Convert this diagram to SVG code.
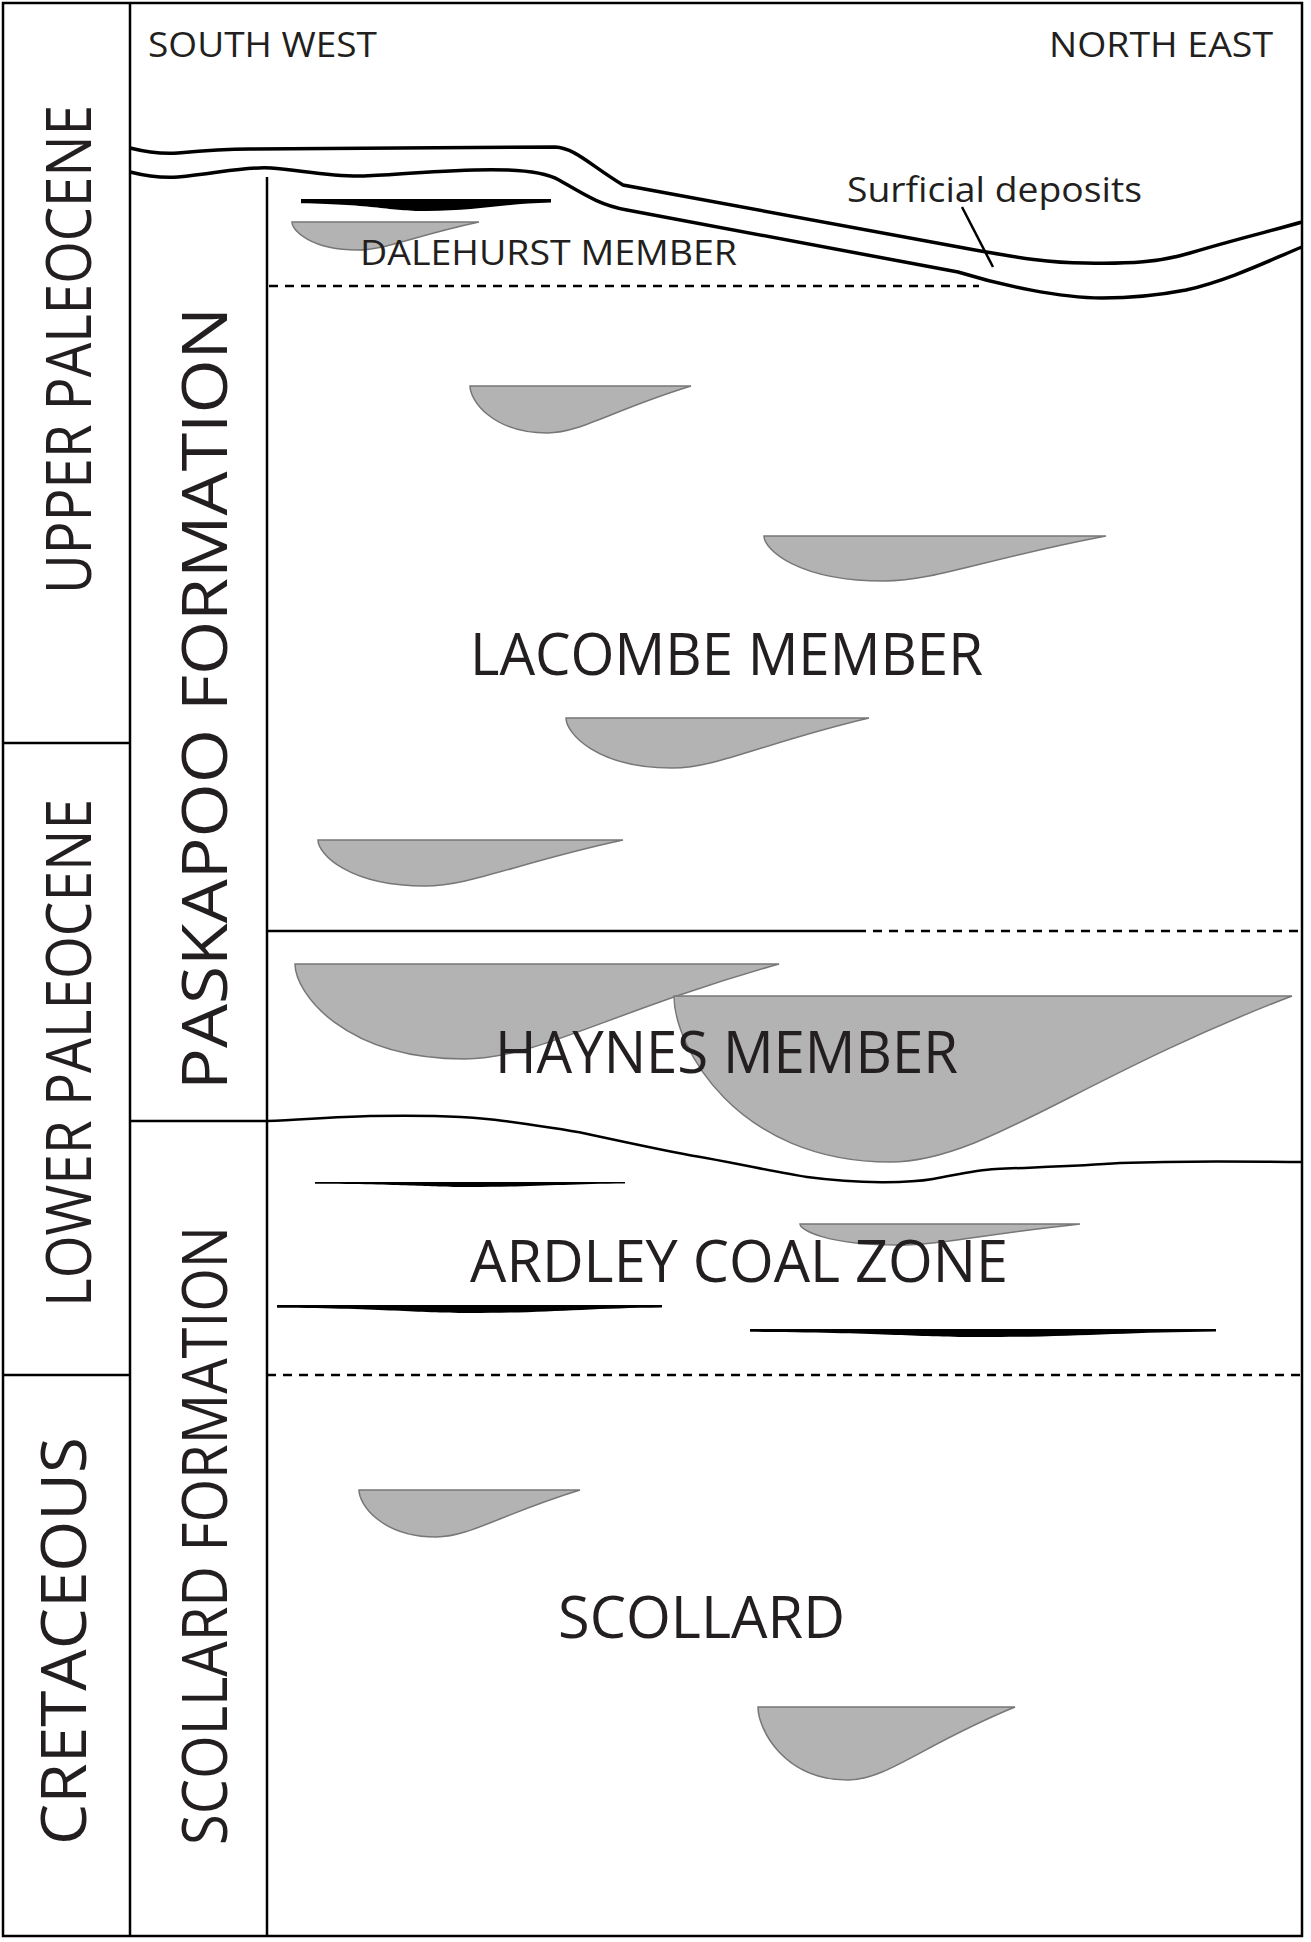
<svg xmlns="http://www.w3.org/2000/svg" width="1311" height="1942" viewBox="0 0 1311 1942">
<style>
.ln{fill:none;stroke:#000;stroke-width:2.5}
.th{fill:none;stroke:#000;stroke-width:3.5}
.ds{fill:none;stroke:#000;stroke-width:2.5;stroke-dasharray:9 7}
.lens{fill:#b3b3b3;stroke:#777;stroke-width:1.5}
.coal{fill:#000;stroke:none}
text{font-family:"Open Sans","Liberation Sans",sans-serif;fill:#231f20}
.s{font-size:34px}
.m{font-size:58px}
.v{font-size:62px}
</style>
<defs>
<path id="lens" d="M0,0 L1,0 C0.65,0.5 0.5,1 0.35,1 C0.1,1 0,0.3 0,0 Z" vector-effect="non-scaling-stroke"/>
<path id="coal" d="M0,0 L1,0 L1,0.3 C0.8,0.4 0.7,1 0.5,1 C0.35,1 0.3,0.45 0,0.35 Z"/>
</defs>
<rect fill="#fff" width="1311" height="1942"/>
<g id="frame">
<rect class="ln" x="3" y="3" width="1299" height="1933"/>
<path class="ln" d="M130,3 V1936 M267,177 V1936 M3,743 H130 M3,1375 H130 M130,1121 H267"/>
</g>
<g id="lenses">
<use href="#lens" class="lens" transform="translate(292,222) scale(187,28)"/>
<use href="#lens" class="lens" transform="translate(470,386) scale(221,47)"/>
<use href="#lens" class="lens" transform="translate(764,536) scale(342,45)"/>
<use href="#lens" class="lens" transform="translate(566,718) scale(303,50)"/>
<use href="#lens" class="lens" transform="translate(318,840) scale(305,46)"/>
<use href="#lens" class="lens" transform="translate(295,964) scale(484,95)"/>
<use href="#lens" class="lens" transform="translate(674,996) scale(618,166)"/>
<use href="#lens" class="lens" transform="translate(800,1224) scale(280,21)"/>
<use href="#lens" class="lens" transform="translate(359,1490) scale(221,47)"/>
<use href="#lens" class="lens" transform="translate(758,1707) scale(257,73)"/>
</g>
<g id="coals">
<use href="#coal" class="coal" transform="translate(301,199) scale(250,12)"/>
<use href="#coal" class="coal" transform="translate(315,1182) scale(310,5)"/>
<use href="#coal" class="coal" transform="translate(277,1305) scale(385,8)"/>
<use href="#coal" class="coal" transform="translate(750,1329) scale(466,8)"/>
</g>
<g id="connectors">
<path class="th" d="M130,148 C150,153 165,154 178,153 C210,150 230,149 250,149 L555,147 C575,148 590,165 623,185 L975,250 C1020,258 1050,263 1085,263 C1130,264 1160,262 1190,253 C1240,238 1275,230 1302,222"/>
<path class="th" d="M130,172 C150,177 165,178 178,177 C215,174 245,166 271,168 C300,170 330,177 364,176 C410,174 460,168 508,170 C535,171 550,175 559,180 C585,195 600,205 627,210 L958,272 C1000,285 1060,298 1102,298 C1130,298 1160,295 1186,290 C1230,280 1270,260 1302,247"/>
<path class="ln" d="M962,207 L993,267"/>
<path class="ds" d="M269,286 H979"/>
<path class="ln" d="M267,931 H857"/>
<path class="ds" d="M857,931 H1302"/>
<path class="ln" d="M267,1121 C300,1120 330,1117 370,1116 C420,1115 470,1116 504,1121 C540,1126 570,1130 592,1135 C640,1145 670,1152 706,1158 C750,1166 780,1173 807,1177 C860,1184 910,1183 933,1179 C960,1174 975,1170 996,1169 C1040,1167 1080,1166 1120,1163 C1200,1160 1260,1162 1302,1162"/>
<path class="ds" d="M267,1375 H1302"/>
</g>
<g id="labels">
<text class="s" x="148" y="57" textLength="229" lengthAdjust="spacingAndGlyphs">SOUTH WEST</text>
<text class="s" x="1049" y="57" textLength="224" lengthAdjust="spacingAndGlyphs">NORTH EAST</text>
<text class="s" x="847" y="202" textLength="295" lengthAdjust="spacingAndGlyphs">Surficial deposits</text>
<text class="s" x="360" y="265" textLength="377" lengthAdjust="spacingAndGlyphs">DALEHURST MEMBER</text>
<text class="m" x="470" y="675" textLength="513" lengthAdjust="spacingAndGlyphs">LACOMBE MEMBER</text>
<text class="m" x="495" y="1073" textLength="463" lengthAdjust="spacingAndGlyphs">HAYNES MEMBER</text>
<text class="m" x="470" y="1282" textLength="538" lengthAdjust="spacingAndGlyphs">ARDLEY COAL ZONE</text>
<text class="m" x="558" y="1638" textLength="287" lengthAdjust="spacingAndGlyphs">SCOLLARD</text>
<text class="v" transform="translate(91,594) rotate(-90)" textLength="489" lengthAdjust="spacingAndGlyphs">UPPER PALEOCENE</text>
<text class="v" transform="translate(91,1307) rotate(-90)" textLength="508" lengthAdjust="spacingAndGlyphs">LOWER PALEOCENE</text>
<text class="v" transform="translate(86,1845) rotate(-90)" textLength="408" lengthAdjust="spacingAndGlyphs">CRETACEOUS</text>
<text class="v" transform="translate(227,1090) rotate(-90)" textLength="783" lengthAdjust="spacingAndGlyphs">PASKAPOO FORMATION</text>
<text class="v" transform="translate(227,1845) rotate(-90)" textLength="619" lengthAdjust="spacingAndGlyphs">SCOLLARD FORMATION</text>
</g>
</svg>
